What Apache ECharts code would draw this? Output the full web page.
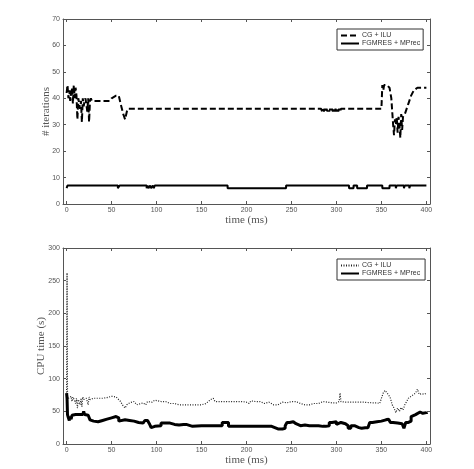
<!DOCTYPE html>
<html><head><meta charset="utf-8">
<script src="https://cdn.jsdelivr.net/npm/echarts@6/dist/echarts.min.js"></script>
<style>html,body{margin:0;padding:0;background:#fff}#c{width:474px;height:469px}</style>
</head><body><div id="c"></div>
<script>
// ---- Data ----
const seriesNames = ['CG + ILU', 'FGMRES + MPrec'];
const xTicks = [0, 50, 100, 150, 200, 250, 300, 350, 400];
const yTicksIter = [0, 10, 20, 30, 40, 50, 60, 70];
const yTicksCpu = [0, 50, 100, 150, 200, 250, 300];

// Top panel: # iterations, CG + ILU
const iterCgT = [0,1,2,3,4,5,6,7,8,9,10,11,12,13,14,15,16,17,18,19,20,21,22,23,24,25,26,27,28,30,40,48,50,55,58,60,63,64,65,67,68,100,150,200,250,283,284,285,286,287,288,289,290,291,292,293,294,295,296,297,298,299,300,301,302,303,304,305,306,350,351,352,353,356,359,361,363,364,365,366,367,368,369,370,371,372,373,374,376,378,380,383,386,390,400];
const iterCgV = [42,45,40,43,39,42,44,38,45,40,44,41,32,40,38,36,39,31,40,37,39,40,40,35,40,31,39,40,39,39,39,39,40,41,41,38,34,33,32,35,36,36,36,36,36,36,35,36,35,36,35,36,35,36,35,36,35,36,35,36,35,36,35,36,35,36,35,36,36,36,45,43,45,45,44,40,30,26,32,30,33,27,33,30,25,34,28,33,34,36,38,41,43,44,44];
// Top panel: # iterations, FGMRES + MPrec (step changes)
const iterFgT = [0,1,57,59,89,90,91,93,94,96,97,98,179,244,314,319,323,334,351,359,366,367,375,376,381,382,400];
const iterFgV = [6,7,6,7,6,7,6,7,6,7,6,7,6,7,6,7,6,7,6,7,6,7,6,7,6,7,7];

// Bottom panel: CPU time, CG + ILU
const cpuCgT = [0,0.5,1,2,3,4,5,6,7,8,9,10,11,12,13,14,15,16,17,18,19,20,22,24,25,26,28,30,35,40,45,50,55,57,60,62,64,65,67,70,72,75,78,80,85,88,90,95,98,100,105,110,115,120,125,130,135,140,150,155,157,160,163,165,167,170,175,180,190,195,200,203,205,210,215,220,225,230,235,240,245,250,255,260,265,270,275,280,285,290,295,300,303,304,305,306,310,320,330,340,345,348,350,352,354,356,358,360,362,364,366,368,370,372,374,376,378,380,382,385,388,390,392,395,398,400];
const cpuCgV = [75,262,74,70,72,68,73,65,72,70,66,62,70,55,68,65,60,70,57,72,68,66,70,60,72,68,70,70,70,70,71,73,72,70,65,60,57,55,60,63,62,65,60,60,63,60,65,64,67,65,65,65,62,62,60,60,60,60,60,62,62,68,70,65,62,65,65,65,65,65,64,62,66,65,65,62,64,60,60,64,63,65,65,62,60,60,62,62,65,64,63,63,65,78,65,63,64,64,64,63,63,62,65,78,82,80,75,70,60,55,48,55,50,56,52,60,65,70,72,75,78,84,76,77,76,78];
// Bottom panel: CPU time, FGMRES + MPrec
const cpuFgT = [0,0.5,1,2,3,4,5,6,8,10,12,14,16,18,19,20,22,24,26,28,30,35,40,45,50,55,57,58,60,65,70,72,75,80,85,87,90,92,94,96,98,100,105,110,115,120,125,130,133,135,140,150,160,170,173,177,180,190,200,210,220,225,228,230,235,240,243,245,248,252,255,260,265,270,275,280,285,288,290,292,295,300,302,305,307,310,313,316,320,322,325,328,332,335,337,340,345,350,355,358,360,363,365,368,370,373,375,377,380,383,385,388,390,393,396,400];
const cpuFgV = [78,70,45,40,36,42,38,44,45,43,45,44,45,43,50,45,44,42,37,35,34,36,38,40,42,43,40,35,37,36,35,35,33,32,32,36,34,31,25,27,28,28,32,32,30,29,30,30,28,27,28,28,28,28,33,33,27,27,27,27,27,27,24,23,23,24,28,33,34,31,28,29,28,28,28,27,27,26,28,33,34,30,33,33,31,28,24,28,30,25,24,25,25,25,33,34,35,37,38,35,33,30,32,30,31,30,24,33,35,42,45,48,49,47,48,46];

const zip = (t, v) => t.map((x, i) => [x, v[i]]);

const FONT = 'Liberation Sans';
const SERIF = 'Liberation Serif';
const txt = '#555';
const axisLineC = '#555';

function xAx(gridIndex, pos, show) {
  return {
    type: 'value', gridIndex, position: pos, min: -4, max: 404,
    name: show ? 'time (ms)' : '', nameLocation: 'middle', nameGap: 11, nameMoveOverlap: false,
    nameTextStyle: { fontFamily: SERIF, fontSize: 11, color: txt },
    axisLine: { show: true, onZero: false, lineStyle: { color: axisLineC, width: 1 } },
    axisTick: { show: true, inside: true, length: 3, customValues: xTicks, lineStyle: { color: axisLineC } },
    axisLabel: { show: show, customValues: xTicks, fontFamily: FONT, fontSize: 7, color: txt, margin: 3 },
    splitLine: { show: false }
  };
}
function yAx(gridIndex, pos, show, maxV, ticks, name, gap) {
  return {
    type: 'value', gridIndex, position: pos, min: 0, max: maxV,
    name: show ? name : '', nameLocation: 'middle', nameGap: gap || 11, nameMoveOverlap: false,
    nameTextStyle: { fontFamily: SERIF, fontSize: 11, color: txt },
    axisLine: { show: true, onZero: false, lineStyle: { color: axisLineC, width: 1 } },
    axisTick: { show: true, inside: true, length: 3, customValues: ticks, lineStyle: { color: axisLineC } },
    axisLabel: { show: show, customValues: ticks, fontFamily: FONT, fontSize: 7, color: txt, margin: 3 },
    splitLine: { show: false }
  };
}

const legendCommon = {
  orient: 'vertical', left: 337, padding: [3, 3, 3, 3], itemGap: 1,
  itemWidth: 18, itemHeight: 8, borderColor: '#333', borderWidth: 1,
  itemStyle: { opacity: 0 },
  textStyle: { fontFamily: FONT, fontSize: 7, color: '#333', padding: [0, 0, 0, -2] },
  backgroundColor: '#fff'
};

const chart = echarts.init(document.getElementById('c'), null, { renderer: 'canvas' });
chart.setOption({
  animation: false,
  backgroundColor: '#fff',
  grid: [
    { left: 63, right: 44, top: 19, height: 185 },
    { left: 63, right: 44, top: 248, height: 196 }
  ],
  xAxis: [xAx(0, 'bottom', true), xAx(0, 'top', false), xAx(1, 'bottom', true), xAx(1, 'top', false)],
  yAxis: [
    yAx(0, 'left', true, 70, yTicksIter, '# iterations', 11), yAx(0, 'right', false, 70, yTicksIter, ''),
    yAx(1, 'left', true, 300, yTicksCpu, 'CPU time (s)', 16), yAx(1, 'right', false, 300, yTicksCpu, '')
  ],
  legend: [
    Object.assign({}, legendCommon, { top: 29, data: [{ name: 'CG + ILU' }, { name: 'FGMRES + MPrec' }] }),
    Object.assign({}, legendCommon, { top: 259, data: [{ name: 'CG + ILU ' }, { name: 'FGMRES + MPrec ' }] })
  ],
  series: [
    { name: seriesNames[0], type: 'line', xAxisIndex: 0, yAxisIndex: 0, data: zip(iterCgT, iterCgV),
      symbol: 'none', lineStyle: { color: '#000', width: 2, type: [6, 3] }, itemStyle: { color: '#000' } },
    { name: seriesNames[1], type: 'line', xAxisIndex: 0, yAxisIndex: 0, data: zip(iterFgT, iterFgV), step: 'end',
      symbol: 'none', lineStyle: { color: '#000', width: 2 }, itemStyle: { color: '#000' } },
    { name: seriesNames[0] + ' ', type: 'line', xAxisIndex: 2, yAxisIndex: 2, data: zip(cpuCgT, cpuCgV),
      symbol: 'none', lineStyle: { color: '#222', width: 1.2, type: [1, 1.5] }, itemStyle: { color: '#222' } },
    { name: seriesNames[1] + ' ', type: 'line', xAxisIndex: 2, yAxisIndex: 2, data: zip(cpuFgT, cpuFgV), step: 'end',
      symbol: 'none', lineStyle: { color: '#000', width: 3 }, itemStyle: { color: '#000' } }
  ]
});
</script>
</body></html>
